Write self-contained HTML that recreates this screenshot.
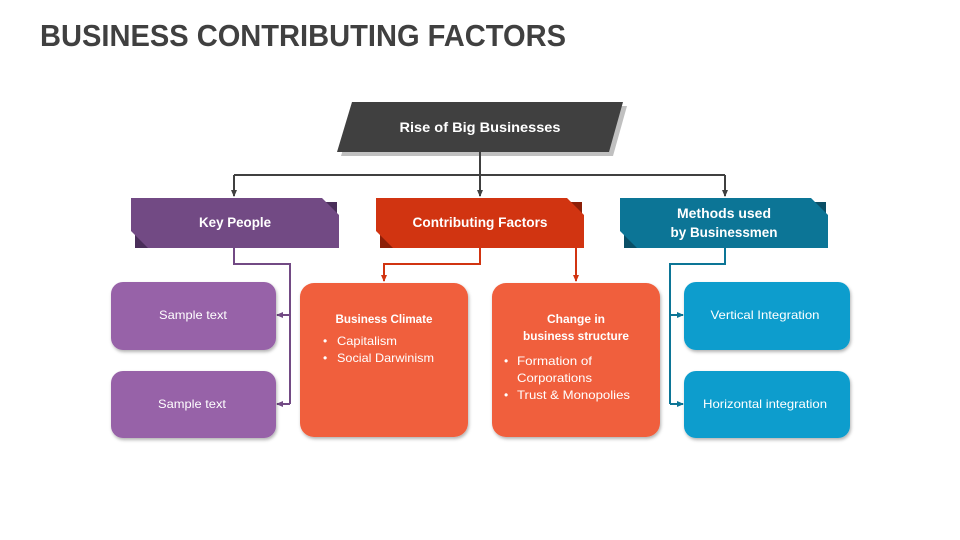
<!DOCTYPE html>
<html><head><meta charset="utf-8"><style>
body{margin:0;background:#fff}
svg{display:block;font-family:"Liberation Sans",sans-serif}
.w{fill:#fff}
</style></head><body>
<svg width="960" height="540" viewBox="0 0 960 540">
<defs>
<marker id="ag" markerWidth="8" markerHeight="8" refX="6" refY="4" orient="auto" markerUnits="userSpaceOnUse"><path d="M0,1 L7,4 L0,7z" fill="#404040"/></marker>
<marker id="ap" markerWidth="8" markerHeight="8" refX="6" refY="4" orient="auto" markerUnits="userSpaceOnUse"><path d="M0,1 L7,4 L0,7z" fill="#724a84"/></marker>
<marker id="ao" markerWidth="8" markerHeight="8" refX="6" refY="4" orient="auto" markerUnits="userSpaceOnUse"><path d="M0,1 L7,4 L0,7z" fill="#d13411"/></marker>
<marker id="at" markerWidth="8" markerHeight="8" refX="6" refY="4" orient="auto" markerUnits="userSpaceOnUse"><path d="M0,1 L7,4 L0,7z" fill="#0c7596"/></marker>
<filter id="sh" x="-10%" y="-10%" width="125%" height="130%"><feDropShadow dx="1" dy="2" stdDeviation="1.5" flood-color="#000" flood-opacity="0.3"/></filter>
</defs>
<text x="40" y="46" font-size="31" font-weight="bold" fill="#404040" textLength="526" lengthAdjust="spacingAndGlyphs">BUSINESS CONTRIBUTING FACTORS</text>

<polygon points="356,106 627,106 613,156 341,156" fill="#c0c0c0"/>
<polygon points="352,102 623,102 609,152 337,152" fill="#404040"/>
<text x="480" y="132" font-size="14" font-weight="bold" class="w" text-anchor="middle" textLength="161" lengthAdjust="spacingAndGlyphs">Rise of Big Businesses</text>

<g stroke="#404040" stroke-width="2" fill="none">
<path d="M480,152 V175"/>
<path d="M234,175 H725"/>
<path d="M234,175 V196" marker-end="url(#ag)"/>
<path d="M480,175 V196" marker-end="url(#ag)"/>
<path d="M725,175 V196" marker-end="url(#ag)"/>
</g>

<rect x="135" y="202" width="202" height="46" fill="#4a2e5a"/>
<polygon points="131,198 322,198 339,215 339,248 148,248 131,231" fill="#724a84"/>
<text x="235" y="227" font-size="13.5" font-weight="bold" class="w" text-anchor="middle" textLength="72" lengthAdjust="spacingAndGlyphs">Key People</text>

<rect x="380" y="202" width="202" height="46" fill="#8c1f08"/>
<polygon points="376,198 567,198 584,215 584,248 393,248 376,231" fill="#d13411"/>
<text x="480" y="227" font-size="13.5" font-weight="bold" class="w" text-anchor="middle" textLength="135" lengthAdjust="spacingAndGlyphs">Contributing Factors</text>

<rect x="624" y="202" width="202" height="46" fill="#0a4f66"/>
<polygon points="620,198 811,198 828,215 828,248 637,248 620,231" fill="#0c7596"/>
<text x="724" y="218" font-size="13.5" font-weight="bold" class="w" text-anchor="middle" textLength="94" lengthAdjust="spacingAndGlyphs">Methods used</text>
<text x="724" y="237" font-size="13.5" font-weight="bold" class="w" text-anchor="middle" textLength="107" lengthAdjust="spacingAndGlyphs">by Businessmen</text>

<g fill="none" stroke-width="2">
<path d="M234,248 V264 H290 V404" stroke="#724a84"/>
<path d="M290,315 H277" stroke="#724a84" marker-end="url(#ap)"/>
<path d="M290,404 H277" stroke="#724a84" marker-end="url(#ap)"/>
<path d="M480,248 V264 H384 V281" stroke="#d13411" marker-end="url(#ao)"/>
<path d="M576,248 V281" stroke="#d13411" marker-end="url(#ao)"/>
<path d="M725,248 V264 H670 V404" stroke="#0c7596"/>
<path d="M670,315 H683" stroke="#0c7596" marker-end="url(#at)"/>
<path d="M670,404 H683" stroke="#0c7596" marker-end="url(#at)"/>
</g>

<g filter="url(#sh)">
<rect x="111" y="282" width="165" height="68" rx="12" fill="#9762a8"/>
<rect x="111" y="371" width="165" height="67" rx="12" fill="#9762a8"/>
<rect x="300" y="283" width="168" height="154" rx="14" fill="#f05e3c"/>
<rect x="492" y="283" width="168" height="154" rx="14" fill="#f05e3c"/>
<rect x="684" y="282" width="166" height="68" rx="12" fill="#0a9dcd"/>
<rect x="684" y="371" width="166" height="67" rx="12" fill="#0a9dcd"/>
</g>
<g font-size="12" class="w" lengthAdjust="spacingAndGlyphs">
<text x="193" y="319" text-anchor="middle" textLength="68" lengthAdjust="spacingAndGlyphs">Sample text</text>
<text x="192" y="408" text-anchor="middle" textLength="68" lengthAdjust="spacingAndGlyphs">Sample text</text>
<text x="384" y="323" text-anchor="middle" font-weight="bold" textLength="97" lengthAdjust="spacingAndGlyphs">Business Climate</text>
<text x="323" y="345">•</text><text x="337" y="345" textLength="60" lengthAdjust="spacingAndGlyphs">Capitalism</text>
<text x="323" y="362">•</text><text x="337" y="362" textLength="97" lengthAdjust="spacingAndGlyphs">Social Darwinism</text>
<text x="576" y="323" text-anchor="middle" font-weight="bold" textLength="58" lengthAdjust="spacingAndGlyphs">Change in</text>
<text x="576" y="340" text-anchor="middle" font-weight="bold" textLength="106" lengthAdjust="spacingAndGlyphs">business structure</text>
<text x="504" y="365">•</text><text x="517" y="365" textLength="75" lengthAdjust="spacingAndGlyphs">Formation of</text>
<text x="517" y="382" textLength="75" lengthAdjust="spacingAndGlyphs">Corporations</text>
<text x="504" y="399">•</text><text x="517" y="399" textLength="113" lengthAdjust="spacingAndGlyphs">Trust &amp; Monopolies</text>
<text x="765" y="319" text-anchor="middle" textLength="109" lengthAdjust="spacingAndGlyphs">Vertical Integration</text>
<text x="765" y="408" text-anchor="middle" textLength="124" lengthAdjust="spacingAndGlyphs">Horizontal integration</text>
</g>
</svg>
</body></html>
